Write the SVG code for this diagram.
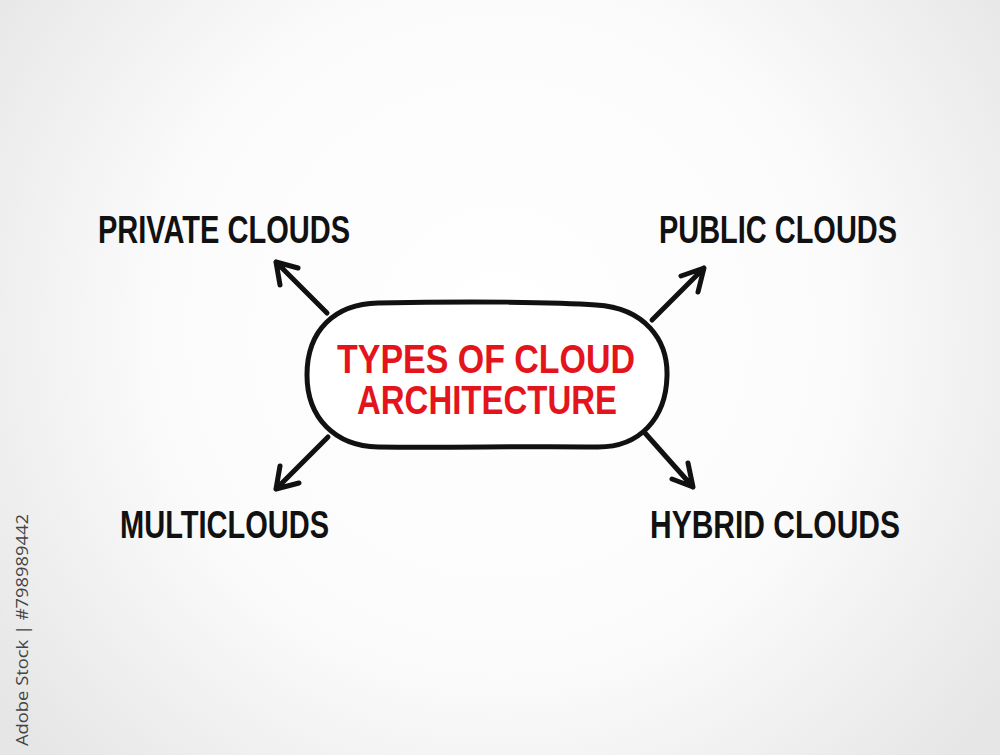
<svg xmlns="http://www.w3.org/2000/svg" width="1000" height="755" viewBox="0 0 1000 755">
<defs>
<radialGradient id="bg" cx="500" cy="330" r="620" gradientUnits="userSpaceOnUse">
<stop offset="0" stop-color="#ffffff"/>
<stop offset="0.55" stop-color="#fbfbfb"/>
<stop offset="1" stop-color="#e6e6e6"/>
</radialGradient>
<style>
.lbl{font-family:"Liberation Sans",Arial,sans-serif;font-weight:bold;font-size:38px;fill:#111;}
.ttl{font-family:"Liberation Sans",Arial,sans-serif;font-weight:bold;font-size:40px;fill:#e3141b;}
.con{fill:none;stroke:#111;stroke-width:5;stroke-linecap:round;stroke-linejoin:round;}
.wm{font-family:"Open Sans","DejaVu Sans",sans-serif;font-size:17px;fill:#444;}
</style>
</defs>
<rect width="1000" height="755" fill="url(#bg)"/>
<g id="connectors">
<path class="con" d="M327,313 L276,262 M298,268 L276,262 L280,285"/>
<path class="con" d="M652,320 L704,268 M681,276 L704,268 L698,292"/>
<path class="con" d="M328,437 L276,489 M280,466 L276,489 L299,483"/>
<path class="con" d="M645,433 L693,487 M672,479 L693,487 L688,463"/>
</g>
<g id="center">
<path d="M378,303 C470,301 560,302 596,305 C645,308 668,340 667,376 C666,418 640,448 596,447 C520,446 450,448 378,447 C335,446 307,418 307,375 C307,330 335,304 378,303 Z" fill="#ffffff" stroke="#111" stroke-width="5"/>
<text class="ttl" text-anchor="middle"><tspan x="486" y="373" textLength="298" lengthAdjust="spacingAndGlyphs">TYPES OF CLOUD</tspan><tspan x="487" y="414" textLength="260" lengthAdjust="spacingAndGlyphs">ARCHITECTURE</tspan></text>
</g>
<g id="private">
<text class="lbl" x="98" y="243" textLength="252" lengthAdjust="spacingAndGlyphs">PRIVATE CLOUDS</text>
</g>
<g id="public">
<text class="lbl" x="659" y="243" textLength="238" lengthAdjust="spacingAndGlyphs">PUBLIC CLOUDS</text>
</g>
<g id="multi">
<text class="lbl" x="120" y="538" textLength="209" lengthAdjust="spacingAndGlyphs">MULTICLOUDS</text>
</g>
<g id="hybrid">
<text class="lbl" x="650" y="538" textLength="250" lengthAdjust="spacingAndGlyphs">HYBRID CLOUDS</text>
</g>
<text class="wm" transform="translate(28,746) rotate(-90)" textLength="232" lengthAdjust="spacingAndGlyphs">Adobe Stock | #798989442</text>
</svg>
